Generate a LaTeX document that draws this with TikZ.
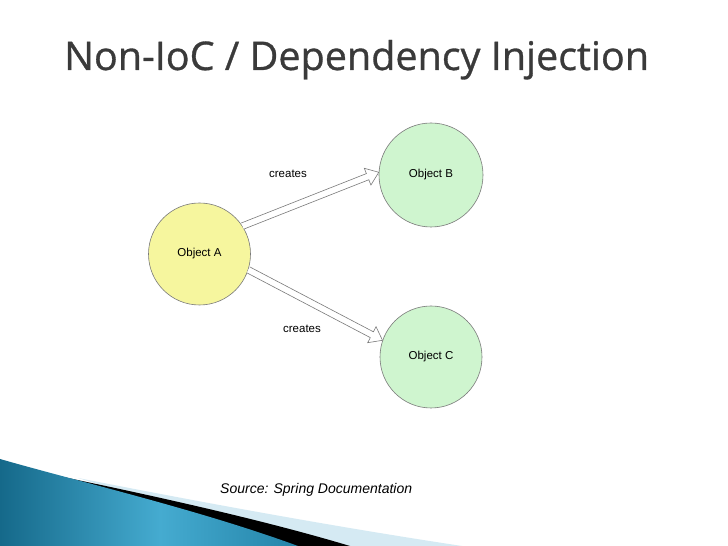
\documentclass[tikz,border=0pt]{standalone}
\usepackage{fontspec}
\setmainfont{Liberation Sans}
\newfontfamily\titlefont[FakeBold=0.8]{Open Sans}
\usetikzlibrary{calc}
\definecolor{titlegray}{HTML}{3A3A3A}
\definecolor{objyellow}{HTML}{F6F69E}
\definecolor{objgreen}{HTML}{CFF5CF}
\definecolor{edgegray}{HTML}{7A7A7A}
\definecolor{bluedark}{HTML}{15698A}
\definecolor{bluemid}{HTML}{2383A8}
\definecolor{bluelight}{HTML}{45ABD0}
\definecolor{bandlight}{HTML}{D5EAF3}
\tikzset{
  obj/.style={circle, draw=edgegray, line width=0.6pt, minimum size=102pt, inner sep=0pt,
    font=\fontsize{11.5}{13}\selectfont},
  lbl/.style={font=\fontsize{11.5}{13}\selectfont, inner sep=0pt},
  hollowarrow/.style={draw=edgegray, fill=white, line width=0.6pt, line join=miter},
}
\newcommand{\fatarrow}[2]{%
  \coordinate (s) at (#1);
  \coordinate (t) at (#2);
  \coordinate (hb) at ($(t)!12pt!(s)$);
  \draw[hollowarrow]
    ($(s)!3.3pt!90:(t)$) -- ($(hb)!3.3pt!-90:(s)$) -- ($(hb)!9pt!-90:(s)$) -- (t)
    -- ($(hb)!9pt!90:(s)$) -- ($(hb)!3.3pt!90:(s)$) -- ($(s)!3.3pt!-90:(t)$);
}
\begin{document}
\begin{tikzpicture}[x=1pt,y=1pt]
\useasboundingbox (0,0) rectangle (728,546);
\fill[white] (0,0) rectangle (728,546);

% bottom decoration
\fill[bandlight] (78,68) .. controls (200,44) and (330,20) .. (462,0) -- (300,0) -- cycle;
\fill[black] (44,73) .. controls (150,51) and (260,27) .. (350,0) -- (296,0) -- cycle;
\begin{scope}
\clip (0,87) .. controls (80,64) and (200,36) .. (298,0) -- (0,0) -- cycle;
\shade[left color=bluedark, right color=bluelight] (0,0) rectangle (160,90);
\shade[left color=bluelight, right color=bluemid] (160,0) rectangle (300,90);
\end{scope}

% title
\node[anchor=base west, inner sep=0pt, text=titlegray,
  font=\titlefont\fontsize{39.5}{42}\selectfont] (title) at (64,476) {Non-IoC / Dependency Injection};

% objects
\node[obj, fill=objyellow] (A) at (199.5,292) {Object A};
\node[obj, fill=objgreen, minimum size=104pt] (B) at (431,371) {Object B};
\node[obj, fill=objgreen] (C) at (431,189) {Object C};

% arrows
\fatarrow{A.33}{B.177}
\fatarrow{A.-18}{C.161}

\node[lbl] (l1) at (288,372) {creates};
\node[lbl] (l2) at (302,217) {creates};

\node[anchor=west, inner sep=0pt, font=\itshape\fontsize{14}{16}\selectfont] (src) at (220,56) {Source: Spring Documentation};
\end{tikzpicture}
\end{document}
